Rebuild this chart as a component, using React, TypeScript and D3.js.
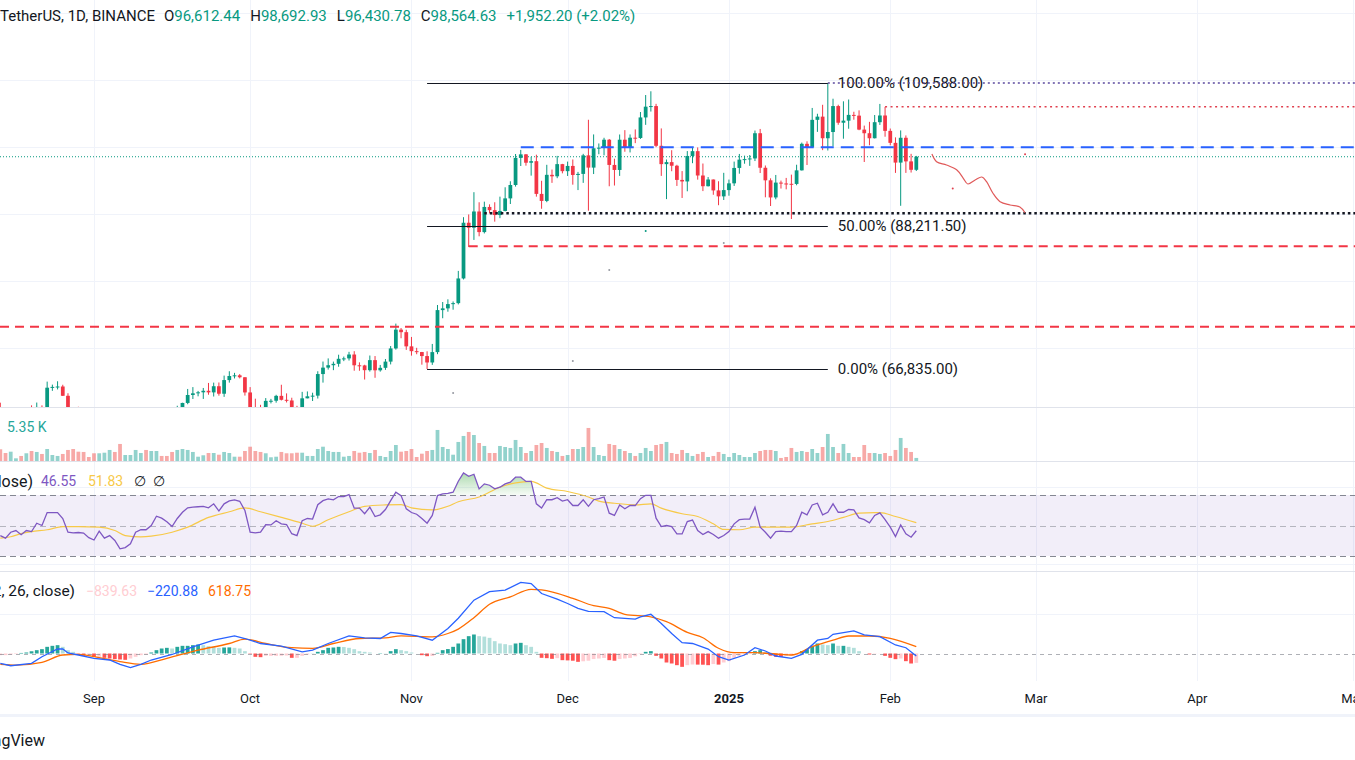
import React, { useEffect, useRef } from 'react';
import * as d3 from 'd3';

const WIDTH = 1355;
const HEIGHT = 760;
const FONT = "'Trebuchet MS', Roboto, Ubuntu, sans-serif";
const TEXT = '#131722';
const UP = '#089981';
const DOWN = '#f23645';

// BTCUSDT daily bars, index 0 = 2024-08-14, last = 2025-02-06 : [open, high, low, close]
const FIRST_DAY = Date.UTC(2024, 7, 14);
const candles: [number, number, number, number][] = [
  [60600, 61800, 58430, 58740], [58740, 59850, 56080, 57560], [57560, 59820, 57100, 58870], [58870, 59690, 58790, 59480],
  [59480, 60270, 58410, 58440], [58440, 59620, 57800, 59490], [59490, 61400, 58600, 59010], [59010, 61820, 58790, 61160],
  [61160, 61400, 59720, 60380], [60380, 64950, 60350, 64040], [64040, 64500, 63570, 64160], [64160, 65000, 63780, 64220],
  [64220, 64480, 62800, 62830], [62830, 63210, 58030, 59420], [59420, 60230, 57860, 59370], [59370, 61190, 58760, 59030],
  [59030, 59940, 57700, 58970], [58970, 59450, 58750, 58900], [58900, 59070, 57200, 57300], [57300, 59400, 57120, 57480],
  [57480, 59810, 57410, 57520], [57520, 58520, 55600, 57970], [57970, 58330, 55640, 56160], [56160, 56990, 52550, 53950],
  [53950, 54850, 53740, 54160], [54160, 55300, 53650, 54870], [54870, 58100, 54590, 57050], [57050, 58040, 56400, 57640],
  [57640, 57990, 55550, 57340], [57340, 58590, 57330, 58130], [58130, 60670, 57630, 60570], [60570, 60660, 59480, 60000],
  [60000, 60380, 58700, 59130], [59130, 59210, 57490, 58210], [58210, 61340, 57610, 60310], [60310, 61790, 59180, 61760],
  [61760, 63850, 61570, 62950], [62950, 64130, 62350, 63200], [63200, 63560, 62750, 63350], [63350, 64000, 62360, 63580],
  [63580, 64750, 62990, 63340], [63340, 64800, 62720, 64260], [64260, 64820, 62850, 63140], [63140, 65850, 62670, 65180],
  [65180, 66500, 64800, 65790], [65790, 66260, 65420, 65890], [65890, 66080, 65430, 65600], [65600, 65620, 62860, 63330],
  [63330, 64130, 60160, 60810], [60810, 62400, 59990, 60750], [60750, 61480, 59830, 60650], [60650, 62490, 60450, 62070],
  [62070, 62370, 61690, 62090], [62090, 62980, 61800, 62820], [62820, 64480, 62130, 62230], [62230, 63190, 61830, 62130],
  [62130, 62540, 60300, 60580], [60580, 61330, 58900, 60270], [60270, 63420, 60080, 62450], [62450, 63480, 62450, 62750],
  [62750, 63290, 62050, 62850], [62850, 66500, 62420, 66080], [66080, 67950, 64800, 67040], [67040, 68420, 66750, 67400],
  [67400, 67940, 66660, 67610], [67610, 68970, 67170, 68360], [68360, 68690, 68010, 68420], [68420, 69400, 68100, 69000],
  [69000, 69500, 66580, 67390], [67390, 67830, 66570, 67370], [67370, 67470, 65260, 66660], [66660, 68850, 66450, 68160],
  [68160, 68770, 65520, 66640], [66640, 67440, 66440, 67010], [67010, 68330, 66700, 67940], [67940, 70270, 67520, 69910],
  [69910, 73620, 69730, 72720], [72720, 72960, 71430, 72340], [72340, 72700, 69690, 70220], [70220, 71630, 68830, 69500],
  [69500, 70000, 69040, 69370], [69370, 69390, 67480, 68770], [68770, 69480, 66835, 67810], [67810, 70580, 67450, 69360],
  [69360, 76400, 69050, 75640], [75640, 76850, 74420, 75900], [75900, 77250, 75400, 76540], [76540, 76930, 75700, 76680],
  [76680, 81500, 76490, 80370], [80370, 89530, 80220, 88700], [88700, 89940, 85070, 87950], [87950, 93265, 86130, 90380],
  [90380, 91760, 86670, 87300], [87300, 91850, 87100, 91060], [91060, 91450, 90090, 90580], [90580, 91760, 88860, 89850],
  [89850, 92600, 89380, 90460], [90460, 94000, 90390, 92340], [92340, 94900, 91500, 94340], [94340, 98970, 94100, 98390],
  [98390, 99590, 97180, 98920], [98920, 98970, 97230, 97670], [97670, 98550, 95740, 97900], [97900, 98870, 92600, 93010],
  [93010, 94970, 90790, 91960], [91960, 97360, 91770, 95860], [95860, 96650, 94660, 95640], [95640, 98690, 95360, 97460],
  [97460, 97500, 96080, 96410], [96410, 97840, 95690, 97190], [97190, 98150, 94390, 95840], [95840, 96300, 93580, 96000],
  [96000, 99000, 94660, 98770], [98770, 104090, 90500, 96940], [96940, 101900, 95980, 99830], [99830, 100550, 98940, 99920],
  [99920, 101400, 98770, 101110], [101110, 101220, 94150, 97340], [97340, 98270, 94260, 96590], [96590, 101890, 95700, 101110],
  [101110, 102540, 99310, 100000], [100000, 101900, 99210, 101410], [101410, 102650, 100600, 101370], [101370, 105250, 101230, 104440],
  [104440, 107790, 103330, 106050], [106050, 108350, 105320, 106140], [106140, 106470, 100000, 100200], [100200, 102800, 95700, 97460],
  [97460, 98150, 92230, 97760], [97760, 99540, 96400, 97220], [97220, 97360, 94200, 95100], [95100, 96420, 92400, 94870],
  [94870, 99410, 93400, 98680], [98680, 99960, 97600, 99400], [99400, 99960, 95140, 95760], [95760, 97550, 93430, 94160],
  [94160, 95530, 94120, 95160], [95160, 95170, 92880, 93530], [93530, 94900, 91320, 92640], [92640, 96160, 92100, 93580],
  [93580, 95150, 92740, 94590], [94590, 97840, 94200, 96890], [96890, 98980, 96030, 98130], [98130, 98730, 97520, 98210],
  [98210, 98820, 97200, 98310], [98310, 102480, 97920, 102080], [102080, 102720, 96130, 96920], [96920, 97260, 92500, 95040],
  [95040, 95340, 91200, 92480], [92480, 95840, 92200, 94700], [94700, 95000, 93810, 94570], [94570, 95400, 93690, 94520],
  [94520, 95890, 89256, 94500], [94500, 97370, 94300, 96530], [96530, 100680, 96500, 100500], [100500, 100870, 97330, 99990],
  [99990, 105860, 99950, 104080], [104080, 104990, 102280, 104560], [104560, 106330, 99550, 101330], [101330, 109588, 99500, 102260],
  [102260, 107240, 100120, 106140], [106140, 106340, 103340, 103650], [103650, 106850, 101260, 103960], [103960, 107120, 102750, 104820],
  [104820, 105290, 104100, 104710], [104710, 105500, 102530, 102620], [102620, 103220, 97780, 102080], [102080, 103780, 100280, 101330],
  [101330, 104800, 101300, 103730], [103730, 106460, 103320, 104730], [104730, 106010, 101560, 102430], [102430, 102780, 100280, 100640],
  [100640, 101460, 96150, 97690], [97690, 102500, 91230, 101400], [101400, 101750, 96150, 97870], [97870, 99000, 96200, 96612.43],
  [96612.44, 98692.93, 96430.78, 98564.63],
];

// volume in thousand BTC, one per bar
const volumes = [
  20.5, 14, 16.3, 4.7, 8.8, 13.5, 17.5, 15.8, 12.3, 21, 10.5, 8.8, 12.3, 19.3, 21, 16.3, 15.8, 7, 13.5, 13.5,
  14.5, 19.3, 15.8, 29.8, 10.5, 10.5, 19.3, 14, 19.3, 17.5, 17.5, 8.8, 8.8, 15.8, 19.3, 21, 19.3, 15.8, 7.5, 10,
  14, 14, 11, 15.8, 14, 7.5, 7.5, 17.5, 25, 17.5, 15.8, 13.5, 6.5, 7.5, 15.8, 13.5, 13.5, 14.5, 14.5, 8.8,
  8.8, 21, 25, 17.5, 15.8, 15.8, 7.5, 8.8, 17.5, 14.5, 15.8, 14, 19.3, 8.8, 7, 17.5, 28, 16.3, 17.5, 21,
  7, 12.8, 17.5, 19.3, 54.3, 24.5, 21, 11, 33.3,
  43.8, 50.8, 45.5, 31.5, 26.3, 14, 14, 26.3, 24.5, 22.8, 36.8, 24.5, 14, 17.5, 28, 31.5, 22.8, 17.5, 15.8, 8.8,
  10.5, 21, 21, 24.5, 57.8, 24.5, 10.5, 8.8, 29.8, 28, 21, 17.5, 14, 8.8, 14, 22.8, 17.5, 28, 29.8, 33.3,
  14, 12.3, 19.3, 14, 8.8, 12.3, 15.8, 7, 8.8, 15.8, 12.3, 7, 14, 10.5, 7, 7, 14, 17.5, 19.3, 19.3,
  17.5, 5.3, 7, 22.8, 15.8, 17.5, 15.8, 21, 14, 24.5, 47.3, 24.5, 14, 29.8, 14, 7, 7, 28, 14, 14,
  12.3, 14, 8.8, 19.3, 40.3, 22.8, 15.8, 5.35,
];

// RSI(14), one per bar
const rsi = [
  43.4, 41.7, 45.6, 46.7, 44, 46.7, 46, 51.5, 50, 58.5, 58.5, 58.5, 54.6, 45.6, 45.2, 45.4, 45, 42, 40.5, 46.3,
  41.7, 43.4, 40.2, 34.7, 35.5, 38, 45.6, 47.2, 47.2, 50, 56.1, 54.8, 52.4, 49.3, 54.6, 58.7, 61.6, 62, 62.3, 62.6,
  61.6, 64.2, 59.5, 64.2, 66.1, 66.8, 65.9, 59.8, 45.6, 45.2, 45.6, 50.6, 50.4, 53.1, 51.1, 50.6, 44.6, 43.4, 53.1, 54.6,
  54.2, 63.6, 66.3, 67.4, 66.8, 69, 69, 70.3, 61.4, 61.4, 57.7, 62, 55.9, 57, 60.5, 66.3, 71.8, 69.6, 61, 58.5,
  57.4, 54.6, 51.5, 56.6, 69.6, 70.7, 71, 71.8, 79,
  84.5, 82.3, 83.6, 74, 77.3, 76.4, 74, 75.1, 77.3, 78.4, 81.7, 81.7, 78.9, 78.9, 64.2, 61.4, 66.9, 66.9, 68.2, 66,
  66.9, 63.1, 63.1, 66.9, 62.6, 66.9, 67.6, 68.7, 58.1, 56.6, 63.5, 61, 63.1, 63.1, 67.6, 69.8, 69.8, 54.8, 49.3, 50,
  49.3, 44.5, 44.5, 52.6, 53.6, 46.7, 44.1, 46, 44.1, 41.7, 43.4, 46, 51.1, 53.8, 54.2, 54.2, 62, 48.9, 45.6, 41.7,
  46, 46.3, 46, 46, 50, 58.7, 57, 63.5, 64.6, 57, 58.7, 64.2, 58.7, 58.7, 60.5, 60.2, 55, 53.8, 51.7, 56.6,
  58.3, 53.8, 48.9, 42.8, 50.4, 44.5, 42.3, 46.55,
];

// RSI-based MA, read at [bar index, value]
const rsiMa: [number, number][] = [
  [0, 41.7], [2, 42.6], [4, 44.7], [6, 46], [9, 47.2], [12, 49.3], [15, 49.3], [19, 48.9], [22, 46.7], [24, 43.4],
  [27, 42.6], [29, 43], [33, 45.6], [36, 48.9], [40, 55.3], [44, 59], [47, 61.6], [50, 59], [54, 55.3], [58, 51.5],
  [60, 49.5], [63, 53.8], [67, 59], [70, 62.6], [74, 63.5], [77, 63.7], [79, 61.6], [83, 60.2], [86, 62.6], [88, 65.6],
  [92, 68.7], [96, 75.1], [99, 77.9], [102, 78.9], [105, 74.5], [109, 72.3], [113, 68.7], [115, 66], [118, 64.6], [122, 63.5],
  [125, 64.2], [127, 61.4], [131, 57.7], [134, 55.9], [137, 51.1], [139, 47.4], [142, 47.2], [145, 48.9], [149, 48.9], [152, 48.9],
  [156, 51.1], [159, 52.6], [162, 55.3], [165, 58.1], [168, 58.5], [169, 58.5], [172, 55.9], [176, 51.83],
];

// MACD(12, 26) line and signal, read at [bar index, value]
const macdLine: [number, number][] = [
  [0, -885], [2, -1100], [6, -885], [8, -290], [11, 405], [12, 405], [13, 50], [15, -135], [18, -435], [21, -585],
  [23, -975], [25, -1275], [27, -975], [29, -585], [33, -90], [37, 600], [41, 1200], [45, 1590], [47, 1350], [50, 900],
  [54, 660], [58, 150], [60, 300], [63, 900], [67, 1590], [70, 1410], [73, 1350], [75, 1900], [77, 1800], [80, 1590],
  [83, 1200], [86, 2250], [88, 3170], [91, 4800], [94, 5560], [97, 5700], [100, 6400], [102, 6300], [104, 5400], [107, 4900],
  [109, 4500], [111, 4070], [113, 3800], [116, 3760], [118, 3220], [122, 3100], [123, 3300], [125, 3530], [127, 2700], [129, 1800],
  [131, 970], [133, 900], [136, 400], [138, -290], [140, -585], [143, -135], [145, 520], [147, 225], [149, -225], [152, -435],
  [154, -75], [157, 1200], [159, 1350], [160, 1730], [164, 2030], [166, 1670], [169, 1510], [172, 765], [174, 520], [176, -220.88],
];
const signalLine: [number, number][] = [
  [0, -975], [3, -1050], [8, -800], [12, -135], [15, -75], [19, -375], [23, -735], [27, -975], [32, -435], [38, 300],
  [44, 900], [47, 1300], [51, 900], [56, 520], [60, 470], [64, 900], [69, 1350], [74, 1410], [77, 1590], [83, 1500],
  [86, 1800], [88, 2200], [91, 3220], [94, 4430], [98, 5100], [102, 5780], [104, 5720], [110, 4970], [114, 4300], [117, 4070],
  [120, 3530], [125, 3300], [128, 2860], [132, 1900], [135, 1420], [138, 470], [141, 70], [145, 70], [149, -45], [152, -135],
  [156, 610], [160, 1200], [163, 1575], [167, 1575], [171, 1370], [176, 618.75],
];
// MACD histogram, one per bar
const macdHist = [
  -150, -150, -100, -50, 50, 90, 200, 300, 390, 600, 690, 750, 600, 300, 150, -30, -210, -210, -300, -300,
  -390, -450, -510, -540, -570, -450, -300, -150, -90, 90, 300, 450, 510, 450, 600, 690, 690, 750, 810, 750,
  660, 600, 510, 540, 550, 510, 450, 210, -30, -300, -330, -210, -210, -210, -200, -180, -390, -390, -210, -90,
  10, 150, 300, 510, 540, 600, 580, 510, 390, 210, 150, 90, 0, 30, 20, 210, 390, 300, 210, 90,
  0, -150, -240, -220, 60, 300, 400, 600, 900,
  1290, 1560, 1710, 1560, 1520, 1410, 1110, 900, 840, 750, 900, 960, 750, 600, 150, -390, -420, -480, -420, -600,
  -620, -650, -750, -700, -650, -500, -450, -400, -600, -650, -500, -450, -400, -250, -50, 150, 210, -210, -450, -810,
  -900, -1050, -1200, -1050, -990, -1000, -1010, -1050, -950, -1000, -810, -690, -390, -210, -100, -30, 210, 300, 150, -200,
  -300, -310, -210, -210, -150, 210, 390, 690, 900, 810, 750, 900, 690, 690, 600, 510, 210, 0, -90, -30,
  -10, -210, -390, -510, -450, -690, -900, -839.63,
];

// Fibonacci retracement anchored Nov 4 low -> Jan 20 high
const fibFrom = 82;
const fibTo = 159;
const fibLevels = [
  { label: '100.00%', price: 109588 },
  { label: '50.00%', price: 88211.5 },
  { label: '0.00%', price: 66835 },
];

// horizontal drawings: price, first bar index, drawing kind
const levelLines = [
  { price: 109588, from: 159, kind: 'purpleDot' },
  { price: 106050, from: 170, kind: 'redDot' },
  { price: 100000, from: 100, kind: 'blueDash' },
  { price: 90100, from: 93, kind: 'blackDot' },
  { price: 85200, from: 90, kind: 'redDash' },
  { price: 73150, from: -20, kind: 'redDash' },
];

// hand-drawn projection: [bar index, price]
const projection: [number, number][] = [
  [179, 98974], [179.9, 97822], [181.8, 97329], [183.8, 96582], [185, 95386], [185.9, 94490], [187.3, 95086],
  [188.6, 95535], [189.5, 94832], [190.7, 93143], [192.1, 91843], [194, 91349], [195.9, 91050], [196.9, 90198],
];

// stray marks left on the chart: [bar index, price, kind]
const strayDots: [number, number, string][] = [
  [87, 63240, 'grey'], [110, 68030, 'grey'], [117, 81630, 'grey'], [124, 87460, 'teal'],
  [139, 85670, 'grey'], [183, 93830, 'red'], [196.9, 98930, 'red'],
];

const lineStyles: Record<string, { stroke: string; width: number; dash: string }> = {
  purpleDot: { stroke: '#5b4a9f', width: 1.5, dash: '2,3' },
  redDot: { stroke: '#e0404f', width: 1.5, dash: '2,3.5' },
  blueDash: { stroke: '#2962ff', width: 2, dash: '13,7' },
  blackDot: { stroke: '#131722', width: 2.5, dash: '2.5,3' },
  redDash: { stroke: '#f23645', width: 2, dash: '9,6' },
};
const dotColors: Record<string, string> = { grey: '#9598a1', teal: '#089981', red: '#e0404f' };

export default function App() {
  const svgRef = useRef<SVGSVGElement>(null);

  useEffect(() => {
    if (!svgRef.current) return;
    document.body.style.margin = '0';
    const svg = d3.select(svgRef.current);
    svg.selectAll('*').remove();

    const day = (i: number) => new Date(FIRST_DAY + i * 86400000);
    const x = d3.scaleUtc()
      .domain([new Date(Date.UTC(2024, 8, 1)), new Date(Date.UTC(2025, 2, 1))])
      .range([94, 1036]);
    const xi = (i: number) => x(day(i));
    const step = xi(1) - xi(0);
    const bw = step * 0.72;

    const y = d3.scaleLinear().domain([66835, 109588]).range([369, 83]);
    const vy = d3.scaleLinear().domain([0, 70]).range([461, 421]);
    const ry = d3.scaleLinear().domain([30, 70]).range([556, 495]);
    const my = d3.scaleLinear().domain([-1800, 6300]).range([673.5, 583.5]);

    const panes: Record<string, [number, number]> = { main: [0, 407], vol: [408, 461], rsi: [462, 571], macd: [572, 681] };
    const defs = svg.append('defs');
    Object.entries(panes).forEach(([k, [t, b]]) => {
      defs.append('clipPath').attr('id', `clip-${k}`)
        .append('rect').attr('x', 0).attr('y', t).attr('width', WIDTH).attr('height', b - t);
    });

    svg.append('rect').attr('width', WIDTH).attr('height', HEIGHT).attr('fill', '#ffffff');

    const crisp = (v: number) => Math.round(v) + 0.5;

    // grid
    const grid = svg.append('g').attr('stroke', '#f0f3fa').attr('stroke-width', 1);
    const months = d3.utcMonth.range(x.invert(-10), x.invert(WIDTH + 20));
    grid.selectAll('line.v').data(months).join('line')
      .attr('x1', d => crisp(x(d))).attr('x2', d => crisp(x(d)))
      .attr('y1', 0).attr('y2', 681);
    const priceGrid = d3.range(60000, 120001, 10000).filter(p => y(p) > 0 && y(p) < 407);
    const hGrid = [...priceGrid.map(p => y(p)), ry(75), ry(25), my(3600)];
    grid.selectAll('line.h').data(hGrid).join('line')
      .attr('x1', 0).attr('x2', WIDTH)
      .attr('y1', d => crisp(d)).attr('y2', d => crisp(d));

    // pane separators
    svg.append('g').attr('stroke', '#e0e3eb')
      .selectAll('line').data([407, 461, 571]).join('line')
      .attr('x1', 0).attr('x2', WIDTH).attr('y1', d => d + 0.5).attr('y2', d => d + 0.5);
    svg.append('rect').attr('x', 0).attr('y', 714).attr('width', WIDTH).attr('height', 3).attr('fill', '#f0f3fa');

    // ---------- main pane ----------
    const main = svg.append('g').attr('clip-path', 'url(#clip-main)');
    const last = candles[candles.length - 1];
    const prev = candles[candles.length - 2];

    main.append('line')
      .attr('x1', 0).attr('x2', WIDTH)
      .attr('y1', y(last[3])).attr('y2', y(last[3]))
      .attr('stroke', UP).attr('stroke-width', 1).attr('stroke-dasharray', '1,2');

    const cg = main.append('g').selectAll('g').data(candles).join('g')
      .attr('transform', (d, i) => `translate(${xi(i)},0)`);
    cg.append('line')
      .attr('y1', d => y(d[1])).attr('y2', d => y(d[2]))
      .attr('stroke', d => (d[3] >= d[0] ? UP : DOWN)).attr('stroke-width', 1);
    cg.append('rect')
      .attr('x', -bw / 2).attr('width', bw)
      .attr('y', d => y(Math.max(d[0], d[3])))
      .attr('height', d => Math.max(1, Math.abs(y(d[0]) - y(d[3]))))
      .attr('fill', d => (d[3] >= d[0] ? UP : DOWN));

    // fib retracement
    const fg = main.append('g');
    fibLevels.forEach(f => {
      fg.append('line')
        .attr('x1', xi(fibFrom)).attr('x2', xi(fibTo))
        .attr('y1', crisp(y(f.price))).attr('y2', crisp(y(f.price)))
        .attr('stroke', TEXT).attr('stroke-width', 1);
    });

    levelLines.forEach(l => {
      const s = lineStyles[l.kind];
      main.append('line')
        .attr('x1', Math.max(0, xi(l.from))).attr('x2', WIDTH)
        .attr('y1', y(l.price)).attr('y2', y(l.price))
        .attr('stroke', s.stroke).attr('stroke-width', s.width).attr('stroke-dasharray', s.dash);
    });

    const fmt2 = d3.format(',.2f');
    fibLevels.forEach(f => {
      fg.append('text')
        .attr('x', xi(fibTo) + 10).attr('y', y(f.price))
        .attr('dominant-baseline', 'central')
        .attr('font-size', 15).attr('fill', TEXT)
        .text(`${f.label} (${fmt2(f.price)})`);
    });

    const projLine = d3.line<[number, number]>()
      .x(d => xi(d[0])).y(d => y(d[1]))
      .curve(d3.curveCatmullRom.alpha(0.5));
    main.append('path').attr('d', projLine(projection))
      .attr('fill', 'none').attr('stroke', '#e05a5a').attr('stroke-width', 1.2);

    main.append('g').selectAll('circle').data(strayDots).join('circle')
      .attr('cx', d => xi(d[0])).attr('cy', d => y(d[1])).attr('r', 1)
      .attr('fill', d => dotColors[d[2]]);

    // header legend, laid out left to right
    const hdr = svg.append('g').attr('font-size', 15);
    const chg = last[3] - prev[3];
    const sign = chg >= 0 ? '+' : '';
    const pieces: [string, string][][] = [
      [[TEXT, 'TetherUS, 1D, BINANCE']],
      [[TEXT, 'O'], [UP, fmt2(last[0])]],
      [[TEXT, 'H'], [UP, fmt2(last[1])]],
      [[TEXT, 'L'], [UP, fmt2(last[2])]],
      [[TEXT, 'C'], [UP, fmt2(last[3])]],
      [[UP, `${sign}${fmt2(chg)} (${sign}${d3.format('.2f')((chg / prev[3]) * 100)}%)`]],
    ];
    let hx = 0;
    pieces.forEach((parts, k) => {
      const t = hdr.append('text').attr('x', hx).attr('y', 16).attr('dominant-baseline', 'central');
      parts.forEach(([c, s]) => t.append('tspan').attr('fill', c).text(s));
      const node = t.node() as SVGTextElement;
      hx += node.getComputedTextLength() + (k === 0 ? 9 : 10);
    });

    // ---------- volume pane ----------
    const vol = svg.append('g').attr('clip-path', 'url(#clip-vol)');
    vol.selectAll('rect').data(volumes).join('rect')
      .attr('x', (d, i) => xi(i) - bw / 2).attr('width', bw)
      .attr('y', d => vy(d)).attr('height', d => vy(0) - vy(d))
      .attr('fill', (d, i) => (candles[i][3] >= candles[i][0] ? 'rgba(38,166,154,0.5)' : 'rgba(239,83,80,0.5)'));
    svg.append('text').attr('x', 7).attr('y', 427).attr('dominant-baseline', 'central')
      .attr('font-size', 14).attr('fill', '#26a69a')
      .text(`${d3.format('.2f')(volumes[volumes.length - 1])} K`);

    // ---------- RSI pane ----------
    const rg = svg.append('g').attr('clip-path', 'url(#clip-rsi)');
    rg.append('rect').attr('x', 0).attr('width', WIDTH)
      .attr('y', ry(70)).attr('height', ry(30) - ry(70)).attr('fill', 'rgba(126,87,194,0.1)');
    rg.selectAll('line.band').data([70, 50, 30]).join('line')
      .attr('x1', 0).attr('x2', WIDTH).attr('y1', d => crisp(ry(d))).attr('y2', d => crisp(ry(d)))
      .attr('stroke', '#787b86').attr('stroke-opacity', d => (d === 50 ? 0.5 : 0.9))
      .attr('stroke-dasharray', '6,4');

    defs.append('clipPath').attr('id', 'clip-ob')
      .append('rect').attr('x', 0).attr('y', 0).attr('width', WIDTH).attr('height', ry(70));
    const grad = defs.append('linearGradient').attr('id', 'ob-grad')
      .attr('gradientUnits', 'userSpaceOnUse').attr('x1', 0).attr('x2', 0).attr('y1', ry(88)).attr('y2', ry(70));
    grad.append('stop').attr('offset', 0).attr('stop-color', 'rgba(76,175,80,0.55)');
    grad.append('stop').attr('offset', 1).attr('stop-color', 'rgba(76,175,80,0.05)');
    const obArea = d3.area<number>().x((d, i) => xi(i)).y0(ry(70)).y1(d => ry(d));
    rg.append('g').attr('clip-path', 'url(#clip-ob)')
      .append('path').attr('d', obArea(rsi)).attr('fill', 'url(#ob-grad)');

    rg.append('path')
      .attr('d', d3.line<[number, number]>().x(d => xi(d[0])).y(d => ry(d[1])).curve(d3.curveMonotoneX)(rsiMa))
      .attr('fill', 'none').attr('stroke', '#f7c948').attr('stroke-width', 1.2);
    rg.append('path')
      .attr('d', d3.line<number>().x((d, i) => xi(i)).y(d => ry(d))(rsi))
      .attr('fill', 'none').attr('stroke', '#7e57c2').attr('stroke-width', 1.3);

    const rl = svg.append('g').attr('font-size', 14);
    rl.append('text').attr('x', 33).attr('y', 481).attr('text-anchor', 'end').attr('dominant-baseline', 'central')
      .attr('font-size', 16).attr('fill', TEXT).text('RSI 14 close)');
    rl.append('text').attr('x', 41).attr('y', 481).attr('dominant-baseline', 'central')
      .attr('fill', '#7e57c2').text(d3.format('.2f')(rsi[rsi.length - 1]));
    rl.append('text').attr('x', 88).attr('y', 481).attr('dominant-baseline', 'central')
      .attr('fill', '#f7c948').text(d3.format('.2f')(rsiMa[rsiMa.length - 1][1]));
    rl.append('text').attr('x', 134).attr('y', 481).attr('dominant-baseline', 'central').attr('fill', TEXT).text('∅');
    rl.append('text').attr('x', 153).attr('y', 481).attr('dominant-baseline', 'central').attr('fill', TEXT).text('∅');

    // ---------- MACD pane ----------
    const mg = svg.append('g').attr('clip-path', 'url(#clip-macd)');
    const histColor = (v: number, p: number) =>
      v >= 0 ? (v >= p ? '#26a69a' : '#b2dfdb') : (v < p ? '#ff5252' : '#ffcdd2');
    mg.selectAll('rect').data(macdHist).join('rect')
      .attr('x', (d, i) => xi(i) - bw / 2).attr('width', bw)
      .attr('y', d => Math.min(my(0), my(d)))
      .attr('height', d => Math.abs(my(d) - my(0)))
      .attr('fill', (d, i) => histColor(d, i > 0 ? macdHist[i - 1] : d));
    mg.append('line').attr('x1', 0).attr('x2', WIDTH)
      .attr('y1', crisp(my(0))).attr('y2', crisp(my(0)))
      .attr('stroke', '#787b86').attr('stroke-opacity', 0.6).attr('stroke-dasharray', '4,4');
    const pl = d3.line<[number, number]>().x(d => xi(d[0])).y(d => my(d[1]));
    mg.append('path').attr('d', pl.curve(d3.curveMonotoneX)(signalLine))
      .attr('fill', 'none').attr('stroke', '#ff6d00').attr('stroke-width', 1.3);
    mg.append('path').attr('d', pl.curve(d3.curveLinear)(macdLine))
      .attr('fill', 'none').attr('stroke', '#2962ff').attr('stroke-width', 1.3);

    const fmtSigned = (v: number) => (v < 0 ? '\u2212' : '') + d3.format(',.2f')(Math.abs(v));
    const ml = svg.append('g').attr('font-size', 14);
    ml.append('text').attr('x', 75).attr('y', 591).attr('text-anchor', 'end').attr('dominant-baseline', 'central')
      .attr('font-size', 15.5).attr('fill', TEXT).text('MACD 12, 26, close)');
    ml.append('text').attr('x', 86).attr('y', 591).attr('dominant-baseline', 'central')
      .attr('fill', '#ffcdd2').text(fmtSigned(macdHist[macdHist.length - 1]));
    ml.append('text').attr('x', 147).attr('y', 591).attr('dominant-baseline', 'central')
      .attr('fill', '#2962ff').text(fmtSigned(macdLine[macdLine.length - 1][1]));
    ml.append('text').attr('x', 208).attr('y', 591).attr('dominant-baseline', 'central')
      .attr('fill', '#ff6d00').text(fmtSigned(signalLine[signalLine.length - 1][1]));

    // ---------- time axis ----------
    svg.append('g').attr('font-size', 13).attr('fill', TEXT)
      .selectAll('text').data(months).join('text')
      .attr('x', d => x(d)).attr('y', 698)
      .attr('text-anchor', 'middle').attr('dominant-baseline', 'central')
      .attr('font-weight', d => (d.getUTCMonth() === 0 ? 'bold' : 'normal'))
      .text(d => (d.getUTCMonth() === 0 ? d3.utcFormat('%Y')(d) : d3.utcFormat('%b')(d)));

    svg.append('text').attr('x', 45).attr('y', 740).attr('text-anchor', 'end')
      .attr('dominant-baseline', 'central').attr('font-size', 16).attr('fill', TEXT)
      .text('TradingView');
  }, []);

  return (
    <svg
      ref={svgRef}
      width={WIDTH}
      height={HEIGHT}
      style={{ display: 'block', position: 'absolute', left: 0, top: 0, fontFamily: FONT }}
    />
  );
}
